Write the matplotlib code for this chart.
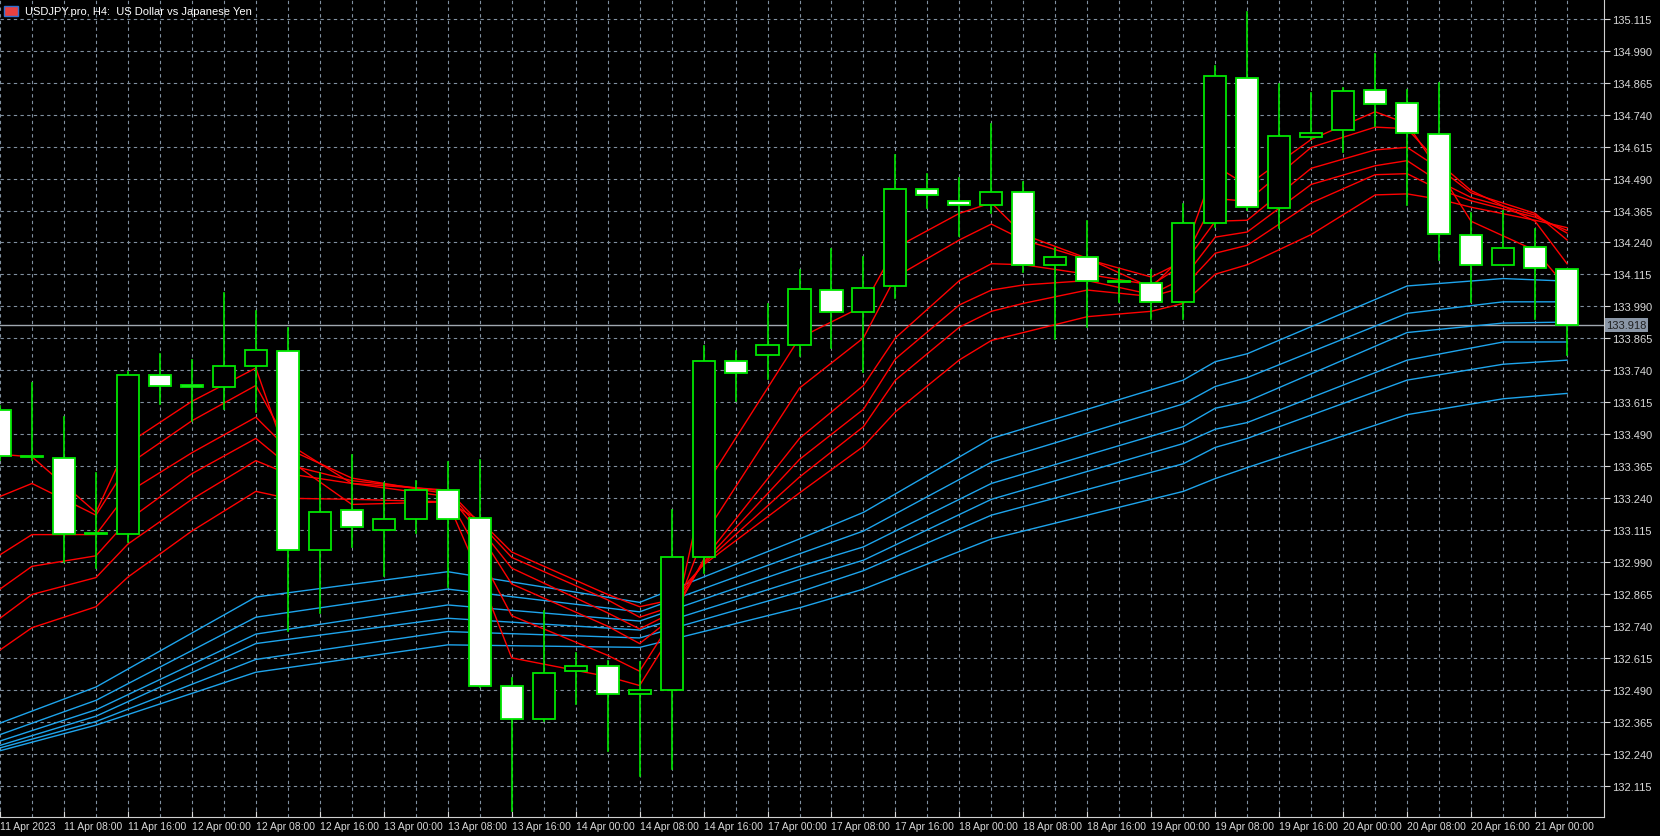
import matplotlib
matplotlib.use('Agg')

import numpy as np
import matplotlib.pyplot as plt
from matplotlib.patches import Rectangle

plt.rcParams['font.family'] = ['Liberation Sans', 'DejaVu Sans']

# --- Data: USDJPY H4 bars ---
opens = [133.584, 133.405, 133.396, 133.102, 133.100, 133.721, 133.677, 133.675, 133.758, 133.814,
         133.036, 133.193, 133.116, 133.158, 133.272, 133.162, 132.508, 132.376, 132.564, 132.583,
         132.475, 132.492, 133.009, 133.778, 133.801, 133.840, 134.056, 133.969, 134.068, 134.451,
         134.403, 134.385, 134.438, 134.151, 134.184, 134.085, 134.080, 134.006, 134.318, 134.883,
         134.376, 134.654, 134.678, 134.836, 134.784, 134.664, 134.271, 134.151, 134.221, 134.136]
highs = [133.600, 133.691, 133.557, 133.340, 133.733, 133.805, 133.780, 134.043, 133.971, 133.905,
         133.340, 133.408, 133.298, 133.309, 133.381, 133.391, 132.537, 132.798, 132.636, 132.605,
         132.600, 133.195, 133.834, 133.815, 134.000, 134.132, 134.215, 134.182, 134.581, 134.509,
         134.494, 134.705, 134.478, 134.219, 134.323, 134.136, 134.132, 134.391, 134.931, 135.140,
         134.861, 134.823, 134.844, 134.978, 134.836, 134.865, 134.354, 134.364, 134.292, 134.136]
lows = [133.390, 133.390, 132.992, 132.967, 133.071, 133.609, 133.543, 133.588, 133.578, 132.723,
        132.791, 133.050, 132.936, 133.104, 132.895, 132.502, 132.016, 132.370, 132.436, 132.253,
        132.156, 132.181, 132.947, 133.619, 133.706, 133.795, 133.826, 133.733, 134.023, 134.374,
        134.267, 134.354, 134.126, 133.863, 133.909, 134.008, 133.940, 133.940, 134.300, 134.368,
        134.296, 134.643, 134.592, 134.695, 134.385, 134.172, 134.008, 134.151, 133.940, 133.799]
closes = [133.406, 133.400, 133.100, 133.100, 133.721, 133.679, 133.677, 133.758, 133.818, 133.036,
          133.185, 133.129, 133.158, 133.272, 133.158, 132.508, 132.376, 132.558, 132.583, 132.475,
          132.492, 133.009, 133.778, 133.731, 133.840, 134.060, 133.969, 134.064, 134.451, 134.426,
          134.385, 134.438, 134.151, 134.184, 134.089, 134.087, 134.008, 134.318, 134.889, 134.380,
          134.658, 134.668, 134.834, 134.782, 134.670, 134.273, 134.151, 134.219, 134.139, 133.918]
last_price = 133.918

# Short-term averages (red), fast -> slow, sampled at these bars
red_idx = [0, 1, 3, 4, 6, 8, 9, 11, 14, 15, 16, 19, 20, 21, 22, 25, 27, 28, 30, 31, 32, 34, 36, 37,
           38, 39, 41, 43, 44, 45, 46, 48, 49]
red_vals = [
    [133.412, 133.402, 133.185, 133.454, 133.619, 133.749, 133.392, 133.216, 133.226, 132.936, 132.616,
     132.543, 132.508, 132.709, 133.278, 133.867, 133.992, 134.219, 134.354, 134.395, 134.271, 134.178,
     134.064, 134.188, 134.540, 134.463, 134.643, 134.751, 134.705, 134.519, 134.323, 134.209, 134.064],
    [133.247, 133.298, 133.174, 133.371, 133.543, 133.681, 133.454, 133.298, 133.247, 133.019, 132.781,
     132.626, 132.564, 132.760, 133.091, 133.671, 133.867, 134.105, 134.250, 134.312, 134.250, 134.174,
     134.105, 134.167, 134.412, 134.401, 134.612, 134.691, 134.685, 134.550, 134.443, 134.323, 134.157],
    [133.019, 133.098, 133.098, 133.263, 133.418, 133.557, 133.433, 133.319, 133.257, 133.102, 132.905,
     132.740, 132.672, 132.771, 133.000, 133.474, 133.681, 133.867, 134.091, 134.157, 134.153, 134.116,
     134.074, 134.153, 134.323, 134.327, 134.530, 134.602, 134.612, 134.530, 134.434, 134.354, 134.250],
    [132.885, 132.974, 133.015, 133.154, 133.336, 133.474, 133.371, 133.309, 133.267, 133.123, 132.967,
     132.792, 132.729, 132.792, 132.990, 133.392, 133.588, 133.785, 133.996, 134.054, 134.074, 134.091,
     134.037, 134.099, 134.261, 134.281, 134.467, 134.540, 134.560, 134.478, 134.416, 134.347, 134.277],
    [132.771, 132.864, 132.930, 133.061, 133.236, 133.387, 133.336, 133.298, 133.272, 133.143, 133.009,
     132.843, 132.775, 132.816, 132.985, 133.323, 133.520, 133.702, 133.909, 133.971, 134.002, 134.054,
     134.029, 134.064, 134.198, 134.229, 134.395, 134.505, 134.509, 134.447, 134.403, 134.339, 134.287],
    [132.647, 132.734, 132.816, 132.932, 133.112, 133.267, 133.240, 133.236, 133.226, 133.154, 133.030,
     132.864, 132.816, 132.843, 132.980, 133.261, 133.443, 133.578, 133.781, 133.857, 133.888, 133.950,
     133.971, 134.002, 134.116, 134.153, 134.271, 134.426, 134.430, 134.409, 134.378, 134.327, 134.298],
]

# Long-term averages (blue), top -> bottom
blue_idx = [0, 3, 8, 14, 20, 25, 27, 31, 37, 38, 39, 44, 47, 49]
blue_vals = [
    [132.361, 132.502, 132.854, 132.953, 132.833, 133.081, 133.185, 133.474, 133.702, 133.774, 133.805, 134.070, 134.099, 134.089],
    [132.316, 132.450, 132.775, 132.885, 132.796, 133.023, 133.112, 133.381, 133.609, 133.677, 133.712, 133.963, 134.008, 134.008],
    [132.291, 132.413, 132.709, 132.823, 132.760, 132.974, 133.050, 133.298, 133.520, 133.592, 133.619, 133.888, 133.925, 133.929],
    [132.274, 132.388, 132.672, 132.771, 132.725, 132.922, 132.998, 133.236, 133.454, 133.510, 133.536, 133.780, 133.851, 133.851],
    [132.264, 132.367, 132.610, 132.719, 132.694, 132.874, 132.957, 133.174, 133.375, 133.439, 133.474, 133.702, 133.764, 133.780],
    [132.253, 132.353, 132.560, 132.667, 132.657, 132.812, 132.885, 133.081, 133.267, 133.317, 133.360, 133.567, 133.629, 133.650],
]

# bar times: 6 bars a day, weekend skipped
days = ['11 Apr', '12 Apr', '13 Apr', '14 Apr', '17 Apr', '18 Apr', '19 Apr', '20 Apr', '21 Apr']
bar_labels = []
for d in days:
    for h in range(0, 24, 4):
        bar_labels.append(f"{d} {h:02d}:00")
bar_labels = bar_labels[:len(closes)]
bar_labels[0] = '11 Apr 2023'

# --- Plotting ---
W, H = 1660, 837
fig = plt.figure(figsize=(W / 100, H / 100), dpi=100, facecolor='black')
ax = fig.add_axes([0, 19 / H, 1604 / W, 817 / H], facecolor='black')

green = '#00e600'
grid_c = '#8090a0'
ax.set_xlim(1 / 32, 1605 / 32)
ax.set_ylim(131.994, 135.188)

# grid: each bar vertically, each price tick horizontally
yt = np.round(np.arange(132.115, 135.2, 0.125), 3)
for i in range(len(closes)):
    ax.axvline(i, color=grid_c, lw=0.8, ls=(0, (3, 3)), zorder=0)
for v in yt:
    ax.axhline(v, color=grid_c, lw=0.8, ls=(0, (3, 3)), zorder=0)

for vals in blue_vals:
    ax.plot(blue_idx, vals, color='#1ea4ec', lw=1.0, zorder=2)
for vals in red_vals:
    ax.plot(red_idx, vals, color='#ff0000', lw=1.0, zorder=2)

bw = 0.69
for i, (o, h, l, c) in enumerate(zip(opens, highs, lows, closes)):
    ax.plot([i, i], [l, h], color=green, lw=1.2, zorder=3)
    lo, hi = min(o, c), max(o, c)
    face = 'black' if c > o else 'white'
    ax.add_patch(Rectangle((i - bw / 2, lo), bw, max(hi - lo, 0.004), facecolor=face,
                           edgecolor=green, lw=1.3, zorder=4))

# current price line
ax.axhline(last_price, color='#a0a8b0', lw=1.0, zorder=1)

# axes styling
for s in ['top', 'left']:
    ax.spines[s].set_visible(False)
ax.spines['right'].set_color('#d0d0d0')
ax.spines['bottom'].set_color('#d0d0d0')
ax.yaxis.tick_right()
ax.set_yticks(yt)
ax.set_yticklabels([f"{v:.3f}" for v in yt])
ax.tick_params(axis='y', colors='#d8d8d8', labelsize=8, length=4, pad=2)
xt = list(range(0, len(closes), 2))
ax.set_xticks(xt)
ax.set_xticklabels([bar_labels[i] for i in xt])
ax.tick_params(axis='x', colors='#d8d8d8', labelsize=7.5, length=4, direction='in', pad=3)
for lab in ax.get_xticklabels():
    lab.set_horizontalalignment('left')

ax.text(1.0015, last_price, f"{last_price:.3f}", transform=ax.get_yaxis_transform(),
        ha='left', va='center', fontsize=8, color='#202020',
        bbox=dict(boxstyle='square,pad=0.15', fc='#8a96a6', ec='none'), zorder=6)

# title + small icon
fig.patches.append(Rectangle((4 / W, 1 - 17 / H), 14 / W, 10 / H, transform=fig.transFigure,
                             facecolor='#e84040', edgecolor='#3070d0', lw=1))
fig.text(25 / W, 1 - 12 / H, 'USDJPY.pro, H4:  US Dollar vs Japanese Yen', color='white',
         fontsize=8, va='center', ha='left')

fig.savefig('out.png', dpi=100, facecolor='black')
